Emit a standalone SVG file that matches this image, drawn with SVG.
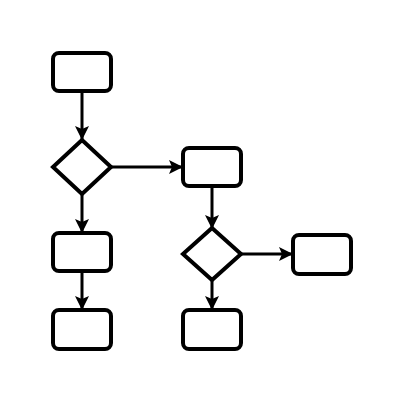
<svg xmlns="http://www.w3.org/2000/svg" width="405" height="402" viewBox="0 0 405 402">
<style>
.box{fill:#fff;stroke:#000;stroke-width:4}
.dia{fill:#fff;stroke:#000;stroke-width:4;stroke-linejoin:miter}
.edge{fill:none;stroke:#000;stroke-width:3;marker-end:url(#ah)}
</style>
<defs>
<marker id="ah" markerUnits="userSpaceOnUse" markerWidth="14" markerHeight="14" viewBox="0 0 14 14" refX="13" refY="7" orient="auto">
<path d="M0,0 L14,7 L0,14 L3,7 Z" fill="#000"/>
</marker>
</defs>
<rect width="405" height="402" fill="#fff"/>
<g id="connectors">
<line class="edge" x1="82" y1="93" x2="82" y2="139"/>
<line class="edge" x1="112" y1="167" x2="182" y2="167"/>
<line class="edge" x1="82" y1="194" x2="82" y2="232"/>
<line class="edge" x1="82" y1="272" x2="82" y2="309"/>
<line class="edge" x1="212" y1="187" x2="212" y2="228"/>
<line class="edge" x1="241" y1="254" x2="292" y2="254"/>
<line class="edge" x1="212" y1="281" x2="212" y2="309"/>
</g>
<g id="n1"><rect class="box" x="53" y="53" width="58" height="38" rx="6"/></g>
<g id="d1"><polygon class="dia" points="82,140 111,167 82,194 53,167"/></g>
<g id="n2"><rect class="box" x="183" y="148" width="58" height="38" rx="6"/></g>
<g id="n3"><rect class="box" x="53" y="233" width="58" height="38" rx="6"/></g>
<g id="d2"><polygon class="dia" points="212,228 241,254 212,280 183,254"/></g>
<g id="n4"><rect class="box" x="293" y="235" width="58" height="39" rx="6"/></g>
<g id="n5"><rect class="box" x="53" y="310" width="58" height="39" rx="6"/></g>
<g id="n6"><rect class="box" x="183" y="310" width="58" height="39" rx="6"/></g>
</svg>
